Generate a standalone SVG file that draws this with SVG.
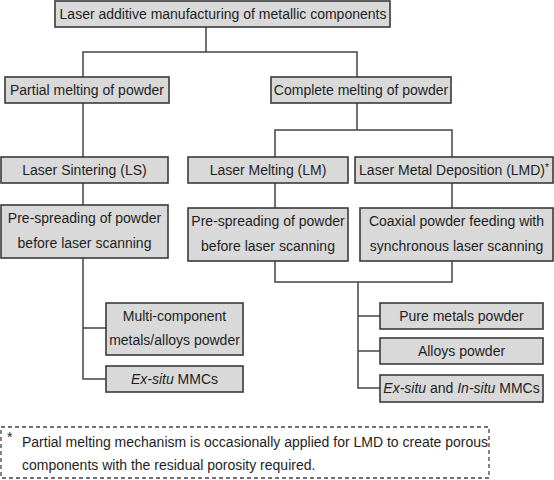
<svg xmlns="http://www.w3.org/2000/svg" width="554" height="480" viewBox="0 0 554 480">
<style>
.box{fill:#d9d9d9;stroke:#3a3a3a;stroke-width:1.6}
.t{font-family:"Liberation Sans",Arial,sans-serif;font-size:14px;fill:#1e1e1e;text-anchor:middle}
.c{fill:none;stroke:#444;stroke-width:1.5}
.d{fill:none;stroke:#444;stroke-width:1.3;stroke-dasharray:4 3}
</style>
<rect width="554" height="480" fill="#fff"/>
<g id="connectors">
<path class="c" d="M206 27V52M83 77V52H357V77"/>
<path class="c" d="M83 103V157"/>
<path class="c" d="M357 103V130M275 157V130H452V157"/>
<path class="c" d="M83 183V205M275 183V208M452 183V208"/>
<path class="c" d="M83 258V379H106M83 328H106"/>
<path class="c" d="M275 261V282H452V261M358 282V388H380M358 316H380M358 351H380"/>
</g>
<g id="n-top"><rect class="box" x="55" y="1" width="335" height="26"/><text class="t" x="223" y="19">Laser additive manufacturing of metallic components</text></g>
<g id="n-partial"><rect class="box" x="5" y="77" width="164" height="26"/><text class="t" x="87" y="95">Partial melting of powder</text></g>
<g id="n-complete"><rect class="box" x="271" y="77" width="180" height="26"/><text class="t" x="361" y="95">Complete melting of powder</text></g>
<g id="n-ls"><rect class="box" x="1" y="157" width="167" height="26"/><text class="t" x="84.5" y="175">Laser Sintering (LS)</text></g>
<g id="n-lm"><rect class="box" x="188" y="157" width="160" height="26"/><text class="t" x="268" y="175">Laser Melting (LM)</text></g>
<g id="n-lmd"><rect class="box" x="355" y="157" width="198" height="26"/><text class="t" x="454" y="175">Laser Metal Deposition (LMD)<tspan font-size="10" dy="-4">*</tspan></text></g>
<g id="n-ls-pre"><rect class="box" x="1" y="205" width="167" height="53"/><text class="t" x="84.5" y="223">Pre-spreading of powder</text><text class="t" x="84.5" y="248">before laser scanning</text></g>
<g id="n-lm-pre"><rect class="box" x="188" y="208" width="160" height="53"/><text class="t" x="268" y="226">Pre-spreading of powder</text><text class="t" x="268" y="251">before laser scanning</text></g>
<g id="n-coax"><rect class="box" x="360" y="208" width="193" height="53"/><text class="t" x="456.5" y="226">Coaxial powder feeding with</text><text class="t" x="456.5" y="251">synchronous laser scanning</text></g>
<g id="n-multi"><rect class="box" x="106" y="303" width="137" height="52"/><text class="t" x="174.5" y="321">Multi-component</text><text class="t" x="174.5" y="345">metals/alloys powder</text></g>
<g id="n-exsitu"><rect class="box" x="106" y="366" width="137" height="26"/><text class="t" x="174.5" y="384"><tspan font-style="italic">Ex-situ</tspan> MMCs</text></g>
<g id="n-pure"><rect class="box" x="380" y="303" width="163" height="26"/><text class="t" x="461.5" y="321">Pure metals powder</text></g>
<g id="n-alloys"><rect class="box" x="380" y="338" width="163" height="26"/><text class="t" x="461.5" y="356">Alloys powder</text></g>
<g id="n-exin"><rect class="box" x="380" y="375" width="163" height="27"/><text class="t" x="461.5" y="393"><tspan font-style="italic">Ex-situ</tspan> and <tspan font-style="italic">In-situ</tspan> MMCs</text></g>
<g id="footnote"><rect class="d" x="1" y="427" width="488" height="51"/><text class="t" style="text-anchor:start" x="7" y="442" font-size="11">*</text><text class="t" style="text-anchor:start" x="22" y="447">Partial melting mechanism is occasionally applied for LMD to create porous</text><text class="t" style="text-anchor:start" x="22" y="470">components with the residual porosity required.</text></g>
</svg>
